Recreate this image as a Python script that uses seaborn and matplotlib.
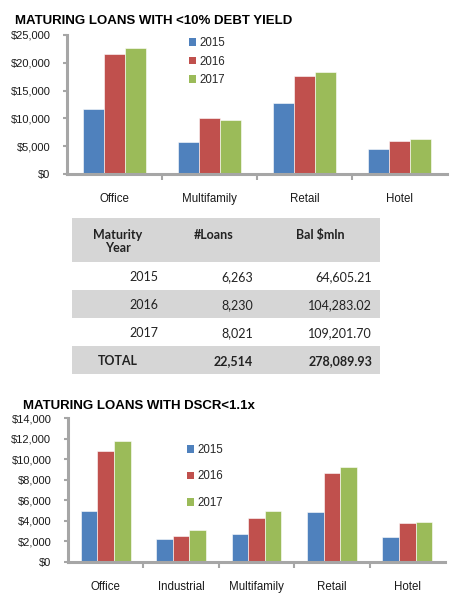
import numpy as np
import pandas as pd
import matplotlib
matplotlib.use("Agg")
import matplotlib.pyplot as plt
from matplotlib.patches import Patch, Rectangle
import seaborn as sns

# ---------------- data ----------------
years = ["2015", "2016", "2017"]
colors = ["#4F81BD", "#C0504D", "#9BBB59"]

dy_categories = ["Office", "Multifamily", "Retail", "Hotel"]
dy_2015 = [11650, 5770, 12740, 4450]
dy_2016 = [21570, 10100, 17670, 6000]
dy_2017 = [22660, 9800, 18390, 6310]
dy_ticks = [0, 5000, 10000, 15000, 20000, 25000]

ds_categories = ["Office", "Industrial", "Multifamily", "Retail", "Hotel"]
ds_2015 = [5000, 2270, 2730, 4840, 2400]
ds_2016 = [10780, 2570, 4290, 8640, 3770]
ds_2017 = [11790, 3120, 5000, 9220, 3860]
ds_ticks = [0, 2000, 4000, 6000, 8000, 10000, 12000, 14000]

tbl_header = ["Maturity\nYear", "#Loans", "Bal $mln"]
tbl_years = ["2015", "2016", "2017", "TOTAL"]
tbl_loans = ["6,263", "8,230", "8,021", "22,514"]
tbl_bal = ["64,605.21", "104,283.02", "109,201.70", "278,089.93"]

# ---------------- figure ----------------
sns.set_theme(style="white")
plt.rcParams["font.family"] = ["Liberation Sans", "DejaVu Sans"]

W, H = 455, 608
fig = plt.figure(figsize=(W / 100, H / 100), dpi=100)


def px_axes(left, top, right, bottom):
    return fig.add_axes([left / W, 1 - bottom / H, (right - left) / W, (bottom - top) / H])


def long_df(cats, s15, s16, s17):
    rows = []
    for yr, vals in zip(years, [s15, s16, s17]):
        for c, v in zip(cats, vals):
            rows.append({"category": c, "year": yr, "value": v})
    return pd.DataFrame(rows)


AXIS_GRAY = "#a6a6a6"


def draw_chart(ax, cats, s15, s16, s17, ticks, title, title_xy, legend_xy, lspacing):
    df = long_df(cats, s15, s16, s17)
    sns.barplot(data=df, x="category", y="value", hue="year", order=cats,
                hue_order=years, palette=colors, width=0.66, gap=0,
                edgecolor="#ffffff", linewidth=0.4, ax=ax, legend=False,
                errorbar=None, saturation=1)
    n = len(cats)
    ax.set_xlim(-0.5, n - 0.5)
    ax.set_ylim(0, ticks[-1])
    ax.set_yticks(ticks)
    ax.set_yticklabels(["${:,.0f}".format(t) for t in ticks])
    ax.set_xlabel("")
    ax.set_ylabel("")
    for s in ["top", "right"]:
        ax.spines[s].set_visible(False)
    for s in ["left", "bottom"]:
        ax.spines[s].set_color(AXIS_GRAY)
        ax.spines[s].set_linewidth(2.2)
    ax.spines["left"].set_zorder(0.5)
    ax.tick_params(axis="y", which="major", left=True, length=3, width=1.5,
                   color=AXIS_GRAY, pad=9, labelsize=8, labelcolor="#1a1a1a")
    ax.tick_params(axis="x", which="major", bottom=False, length=0, pad=14,
                   labelsize=8.3, labelcolor="#1a1a1a")
    ax.set_xticks(np.arange(0.5, n - 0.5, 1.0), minor=True)
    ax.tick_params(axis="x", which="minor", bottom=True, length=4, width=1.5,
                   color=AXIS_GRAY)
    handles = [Patch(facecolor=c, edgecolor="none") for c in colors]
    fig.legend(handles, years, loc="upper left",
               bbox_to_anchor=(legend_xy[0] / W, 1 - legend_xy[1] / H),
               frameon=False, fontsize=8.3, handlelength=0.65, handleheight=0.65,
               handletextpad=0.25, labelspacing=lspacing, borderpad=0,
               borderaxespad=0)
    fig.text(title_xy[0] / W, 1 - title_xy[1] / H, title, fontsize=9.5,
             fontweight="heavy", ha="left", va="baseline", color="#000000")


ax1 = px_axes(67, 35, 447, 174)
draw_chart(ax1, dy_categories, dy_2015, dy_2016, dy_2017, dy_ticks,
           "MATURING LOANS WITH <10% DEBT YIELD", (15, 24), (189, 37), 0.58)

ax2 = px_axes(68, 418, 445, 562)
draw_chart(ax2, ds_categories, ds_2015, ds_2016, ds_2017, ds_ticks,
           "MATURING LOANS WITH DSCR<1.1x", (23, 409), (187, 444), 1.25)

# ---------------- table ----------------
axt = fig.add_axes([0, 0, 1, 1], zorder=-1)
axt.set_xlim(0, W)
axt.set_ylim(H, 0)
axt.axis("off")
TBL_L, TBL_R = 72, 380
GRAY = "#d6d6d6"
axt.add_patch(Rectangle((TBL_L, 218), TBL_R - TBL_L, 44, facecolor=GRAY, edgecolor="none"))
row_tops = [262, 290, 318, 346]
row_fill = ["#ffffff", GRAY, "#ffffff", GRAY]
for top, fc in zip(row_tops, row_fill):
    axt.add_patch(Rectangle((TBL_L, top), TBL_R - TBL_L, 28, facecolor=fc, edgecolor="none"))

tfont = ["Lato", "DejaVu Sans"]
hdr_x = [118, 214, 320]
for x, t in zip(hdr_x, tbl_header):
    axt.text(x, 229, t, ha="center", va="top", fontsize=9, fontweight="bold",
             family=tfont, color="#222222", linespacing=1.15)

for i, top in enumerate(row_tops):
    yc = top + 15
    bold = (tbl_years[i] == "TOTAL")
    fw = "bold" if bold else "normal"
    if bold:
        axt.text(118, yc, tbl_years[i], ha="center", va="center", fontsize=9,
                 fontweight=fw, family=tfont, color="#222222")
    else:
        axt.text(158, yc, tbl_years[i], ha="right", va="center", fontsize=9,
                 fontweight=fw, family=tfont, color="#222222")
    axt.text(253, yc, tbl_loans[i], ha="right", va="center", fontsize=9,
             fontweight=fw, family=tfont, color="#222222")
    axt.text(372, yc, tbl_bal[i], ha="right", va="center", fontsize=9,
             fontweight=fw, family=tfont, color="#222222")

fig.savefig("out.png", dpi=100)
